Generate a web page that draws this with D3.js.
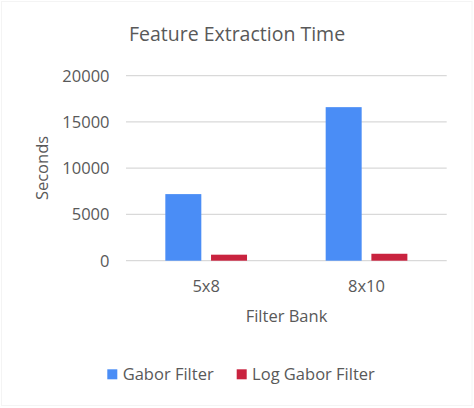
<!DOCTYPE html>
<html><head><meta charset="utf-8">
<script src="https://cdn.jsdelivr.net/npm/d3@7"></script>
<style>
html,body{margin:0;padding:0;background:#fff;}
text{font-family:"Open Sans",sans-serif;fill:#595959;}
</style></head>
<body><svg id="c" width="474" height="408"></svg>
<script>
const categories = ["5x8", "8x10"];
const seriesNames = ["Gabor Filter", "Log Gabor Filter"];
const gaborValues = [7200, 16600];
const logGaborValues = [650, 750];
const yTicks = [0, 5000, 10000, 15000, 20000];
const colors = ["#4a8df6", "#c9233f"];

const svg = d3.select("#c");
// faint chart border
svg.append("rect").attr("x", 1.5).attr("y", 1.5).attr("width", 470.5).attr("height", 404)
  .attr("fill", "none").attr("stroke", "#f4f4f4").attr("stroke-width", 1);

const m = {left:126, right:446.7, top:75.7, bottom:260.7};
const x = d3.scaleBand().domain(categories).range([m.left, m.right]).paddingInner(0).paddingOuter(0);
const y = d3.scaleLinear().domain([0, 20000]).range([m.bottom, m.top]);
const groupW = 81.7;
const x1 = d3.scaleBand().domain(seriesNames).range([0, groupW]).paddingInner(0.27/1.27).paddingOuter(0);

// gridlines
svg.append("g").selectAll("line").data(yTicks).join("line")
  .attr("x1", m.left).attr("x2", m.right)
  .attr("y1", d => y(d)).attr("y2", d => y(d))
  .attr("stroke", "#d9d9d9").attr("stroke-width", 1.3);

// y tick labels
svg.append("g").selectAll("text").data(yTicks).join("text")
  .attr("x", 109.5).attr("y", d => y(d)).attr("dy", "0.36em")
  .attr("text-anchor", "end").attr("font-size", 16.5).text(d => d);

const data = seriesNames.map((s, i) => ({name: s, values: i === 0 ? gaborValues : logGaborValues}));
data.forEach((s, si) => {
  svg.append("g").selectAll("rect").data(s.values).join("rect")
    .attr("x", (d, i) => x(categories[i]) + (x.bandwidth() - groupW)/2 + x1(s.name))
    .attr("width", x1.bandwidth())
    .attr("y", d => y(d))
    .attr("height", d => y(0) - y(d))
    .attr("fill", colors[si]);
});

// x tick labels
svg.append("g").selectAll("text").data(categories).join("text")
  .attr("x", d => x(d) + x.bandwidth()/2).attr("y", 291.7)
  .attr("text-anchor", "middle").attr("font-size", 16.5).text(d => d);

// titles
svg.append("text").attr("x", 237).attr("y", 41).attr("text-anchor", "middle")
  .attr("font-size", 19.5).text("Feature Extraction Time");
svg.append("text").attr("x", 286.5).attr("y", 321.5).attr("text-anchor", "middle")
  .attr("font-size", 16.5).text("Filter Bank");
svg.append("text").attr("transform", "translate(48,168) rotate(-90)")
  .attr("text-anchor", "middle").attr("font-size", 16.5).text("Seconds");

// legend
const legX = [107.3, 236.7];
const lg = svg.append("g").selectAll("g").data(seriesNames).join("g")
  .attr("transform", (d, i) => `translate(${legX[i]},369.3)`);
lg.append("rect").attr("width", 10).attr("height", 10).attr("fill", (d, i) => colors[i]);
lg.append("text").attr("x", 15.4).attr("y", 10.7).attr("font-size", 16.5).text(d => d);
</script></body></html>
